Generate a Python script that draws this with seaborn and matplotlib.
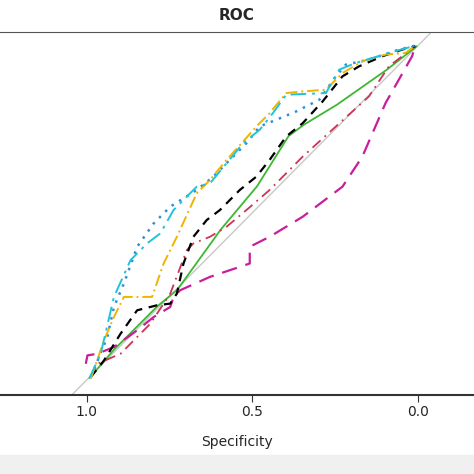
import matplotlib
matplotlib.use("Agg")
import matplotlib.pyplot as plt
import seaborn as sns
import pandas as pd

# curves: specificity / sensitivity
green_spec = [.988, .918, .787, .727, .596, .486, .391, .345, .245, .094, .004]
green_sens = [.010, .090, .220, .269, .449, .579, .729, .763, .823, .928, .998]

black_spec = [.988, .948, .898, .848, .788, .748, .728, .708, .678, .638, .598, .538, .488, .448, .398, .348, .288, .228, .178, .108, .048, .008]
black_sens = [.008, .058, .138, .208, .223, .228, .258, .348, .428, .478, .508, .568, .608, .658, .728, .768, .833, .908, .938, .968, .988, .998]

yellow_spec = [.988, .948, .918, .888, .803, .768, .728, .668, .628, .578, .528, .488, .448, .398, .348, .278, .228, .168, .098, .038, .008]
yellow_sens = [.003, .118, .188, .248, .248, .348, .428, .558, .598, .658, .713, .758, .798, .858, .863, .868, .918, .953, .973, .978, 1.0]

cyan_spec = [.993, .958, .918, .868, .818, .778, .738, .668, .628, .578, .528, .478, .438, .398, .278, .238, .188, .088, .008]
cyan_sens = [.003, .078, .248, .358, .408, .438, .508, .578, .588, .648, .708, .748, .798, .853, .858, .928, .948, .978, 1.0]

blue_spec = [.988, .938, .918, .888, .848, .798, .748, .668, .618, .568, .518, .478, .428, .368, .298, .248, .218, .148, .058, .008]
blue_sens = [.008, .128, .218, .288, .398, .468, .518, .568, .608, .658, .708, .758, .778, .803, .838, .908, .943, .958, .988, 1.0]

red_spec = [.988, .968, .898, .808, .748, .698, .678, .628, .578, .518, .448, .348, .248, .148, .088, .008]
red_sens = [.008, .048, .078, .168, .258, .388, .408, .428, .458, .508, .568, .668, .758, .848, .938, .998]

magenta_spec = [1.003, .998, .968, .918, .848, .798, .748, .738, .718, .628, .568, .508, .508, .448, .348, .228, .168, .098, .018, .008]
magenta_sens = [.048, .073, .078, .098, .148, .188, .218, .248, .268, .308, .328, .348, .398, .428, .488, .578, .668, .828, .968, .998]

tick_vals = [1.0, 0.5, 0.0]
tick_labels = ["1.0", "0.5", "0.0"]

sns.set_style("white")
fig = plt.figure(figsize=(4.74, 4.74), dpi=100)
fig.patches.append(plt.Rectangle((0, 0), 1, 0.04, transform=fig.transFigure,
                                 color="#f0f0f0", zorder=0))
ax = fig.add_axes([0, 0.167, 1, 0.765])

ax.axline((1, 0), (0, 1), color="#c8c8c8", lw=1)

curves = [
    (green_spec, green_sens, "#3cb832", "-", 1.3),
    (red_spec, red_sens, "#cc3355", (0, (6, 3, 1, 3)), 1.3),
    (magenta_spec, magenta_sens, "#c81e9b", (0, (7, 4)), 1.6),
    (black_spec, black_sens, "black", (0, (4, 3)), 1.6),
    (blue_spec, blue_sens, "#2f8fd8", (0, (1, 2.5)), 1.8),
    (yellow_spec, yellow_sens, "#f0b400", (0, (6, 2, 1, 2)), 1.4),
    (cyan_spec, cyan_sens, "#22c3d8", (0, (8, 3, 1.5, 3)), 1.4),
]
for sx, sy, c, ls, lw in curves:
    df = pd.DataFrame({"spec": sx, "sens": sy})
    sns.lineplot(data=df, x="spec", y="sens", sort=False, ax=ax, color=c,
                 linestyle=ls, lw=lw, estimator=None)

ax.set_xlim(1.262, -0.169)
ax.set_ylim(-0.045, 1.04)
for s in ["left", "right"]:
    ax.spines[s].set_visible(False)
ax.spines["bottom"].set_color("#333333")
ax.spines["bottom"].set_linewidth(1.5)
ax.spines["top"].set_color("#555555")
ax.set_yticks([])
ax.set_xticks(tick_vals)
ax.set_xticklabels(tick_labels, fontsize=10)
ax.tick_params(axis="x", bottom=True, length=5, color="#333333", pad=2)
ax.set_xlabel("Specificity", fontsize=10, labelpad=12)
ax.set_ylabel("")
ax.set_title("ROC", fontsize=11, fontweight="bold", pad=9)

fig.savefig("out.png", dpi=100)
